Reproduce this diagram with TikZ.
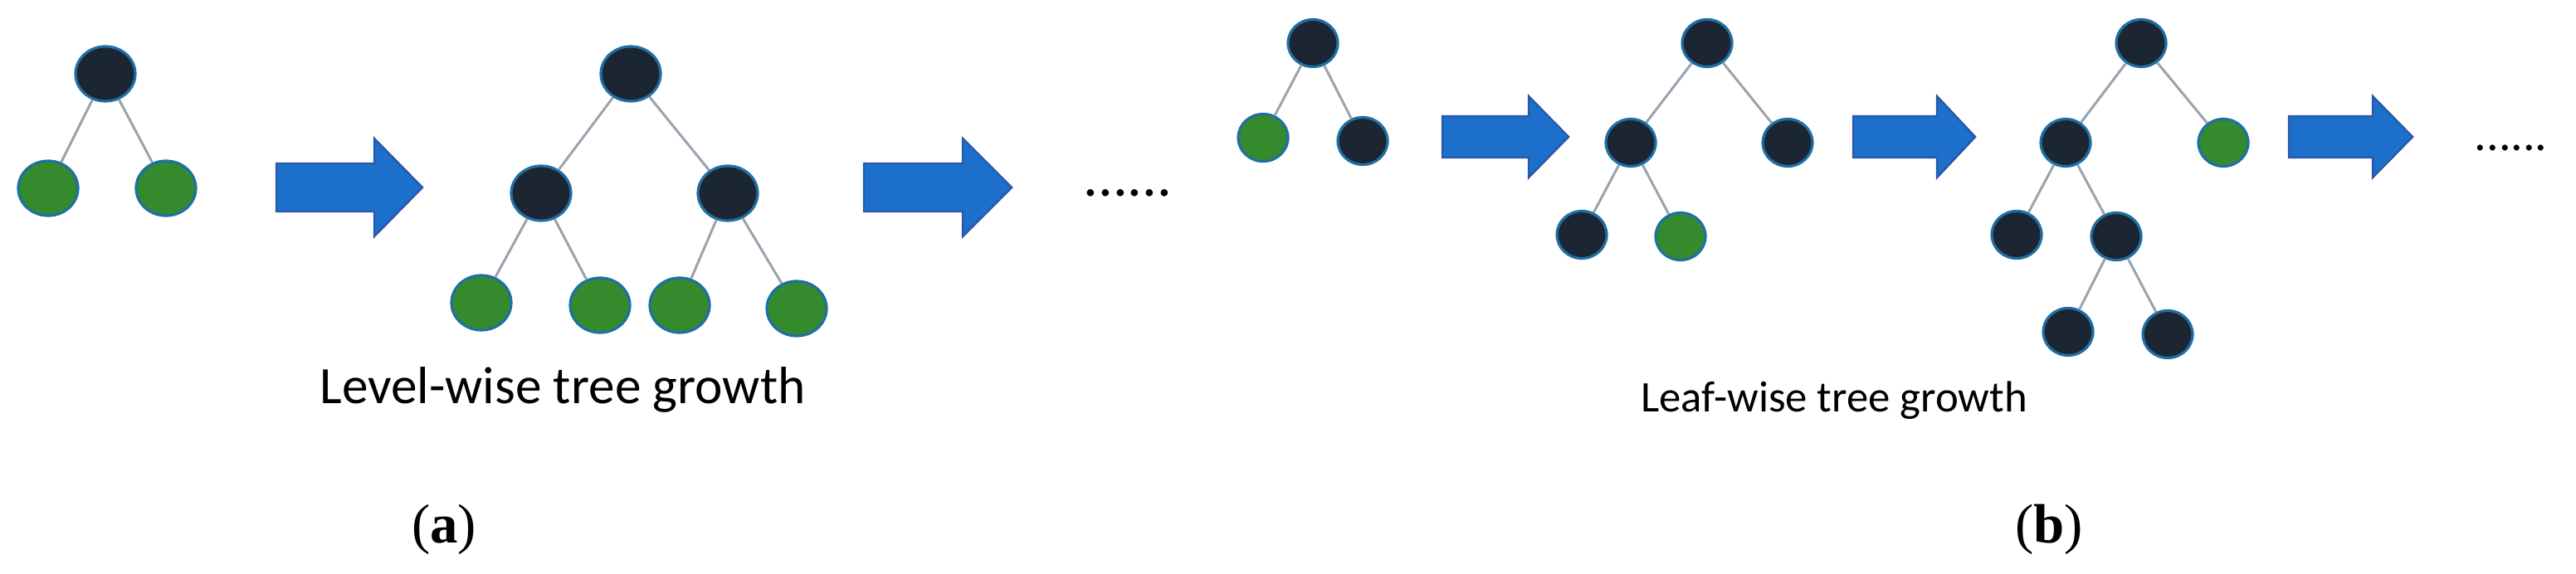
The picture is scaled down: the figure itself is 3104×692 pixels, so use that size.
\documentclass[tikz,border=0pt]{standalone}
\usepackage{fontspec}
\setmainfont{Carlito}
\newfontfamily\serifcap{Liberation Serif}
\usetikzlibrary{shapes.geometric}
\definecolor{darknode}{HTML}{1B2632}
\definecolor{greennode}{HTML}{348A2C}
\definecolor{nodeline}{HTML}{1F6FA5}
\definecolor{edgegray}{HTML}{9AA3AE}
\definecolor{arrowfill}{HTML}{1C70CC}
\definecolor{arrowline}{HTML}{2A58A8}
\tikzset{
  bignode/.style={ellipse,minimum width=0.72cm,minimum height=0.66cm,inner sep=0pt,draw=nodeline,line width=0.9pt},
  smallnode/.style={ellipse,minimum width=0.6cm,minimum height=0.57cm,inner sep=0pt,draw=nodeline,line width=0.9pt},
  dk/.style={fill=darknode},
  gr/.style={fill=greennode},
  edge/.style={draw=edgegray,line width=0.85pt},
  blockarrow/.style={fill=arrowfill,draw=arrowline,line width=0.7pt,line join=miter},
}
\newcommand{\blockarr}[6]{% x0 x1 xh yc shafthalf headhalf
  \path[blockarrow] (#1,#4-#5) -- (#3,#4-#5) -- (#3,#4-#6) -- (#2,#4) -- (#3,#4+#6) -- (#3,#4+#5) -- (#1,#4+#5) -- cycle;}
\begin{document}
\begin{tikzpicture}[x=0.01cm,y=-0.01cm]
\useasboundingbox (0,0) rectangle (3104,692);
% ---- (a) tree 1
\node[bignode,dk] (a1r) at (127,89) {};
\node[bignode,gr] (a1l) at (58,227) {};
\node[bignode,gr] (a1q) at (200,227) {};
\draw[edge] (a1r) -- (a1l); \draw[edge] (a1r) -- (a1q);
\blockarr{333}{509}{451}{226}{29}{59}
% ---- (a) tree 2
\node[bignode,dk] (a2r) at (760,89) {};
\node[bignode,dk] (a2l) at (652,233) {};
\node[bignode,dk] (a2q) at (877,233) {};
\node[bignode,gr] (a2ll) at (580,365) {};
\node[bignode,gr] (a2lr) at (723,368) {};
\node[bignode,gr] (a2rl) at (819,368) {};
\node[bignode,gr] (a2rr) at (960,372) {};
\draw[edge] (a2r) -- (a2l); \draw[edge] (a2r) -- (a2q);
\draw[edge] (a2l) -- (a2ll); \draw[edge] (a2l) -- (a2lr);
\draw[edge] (a2q) -- (a2rl); \draw[edge] (a2q) -- (a2rr);
\blockarr{1041}{1219}{1160}{226}{29}{59}
\node[font=\fontsize{20pt}{24pt}\selectfont,anchor=base west,inner sep=0pt] (adots) at (1305,237) {......};
\node[font=\fontsize{18pt}{22pt}\selectfont,anchor=base,inner sep=0pt] (alab) at (678,487) {Level-wise tree growth};
\node[font=\serifcap\fontsize{19pt}{23pt}\selectfont,anchor=base,inner sep=0pt] (acap) at (535,655) {(\textbf{a})};
% ---- (b) tree 1
\node[smallnode,dk] (b1r) at (1582,52) {};
\node[smallnode,gr] (b1l) at (1522,166) {};
\node[smallnode,dk] (b1q) at (1642,170) {};
\draw[edge] (b1r) -- (b1l); \draw[edge] (b1r) -- (b1q);
\blockarr{1738}{1890}{1842}{165}{25}{49}
% ---- (b) tree 2
\node[smallnode,dk] (b2r) at (2057,52) {};
\node[smallnode,dk] (b2l) at (1965,172) {};
\node[smallnode,dk] (b2q) at (2154,172) {};
\node[smallnode,dk] (b2ll) at (1906,283) {};
\node[smallnode,gr] (b2lr) at (2025,285) {};
\draw[edge] (b2r) -- (b2l); \draw[edge] (b2r) -- (b2q);
\draw[edge] (b2l) -- (b2ll); \draw[edge] (b2l) -- (b2lr);
\blockarr{2233}{2380}{2334}{165}{25}{49}
% ---- (b) tree 3
\node[smallnode,dk] (b3r) at (2580,52) {};
\node[smallnode,dk] (b3l) at (2489,172) {};
\node[smallnode,gr] (b3q) at (2679,172) {};
\node[smallnode,dk] (b3ll) at (2430,283) {};
\node[smallnode,dk] (b3lr) at (2550,285) {};
\node[smallnode,dk] (b3lrl) at (2492,400) {};
\node[smallnode,dk] (b3lrr) at (2612,403) {};
\draw[edge] (b3r) -- (b3l); \draw[edge] (b3r) -- (b3q);
\draw[edge] (b3l) -- (b3ll); \draw[edge] (b3l) -- (b3lr);
\draw[edge] (b3lr) -- (b3lrl); \draw[edge] (b3lr) -- (b3lrr);
\blockarr{2758}{2907}{2859}{165}{25}{49}
\node[font=\fontsize{16.5pt}{20pt}\selectfont,anchor=base west,inner sep=0pt] (bdots) at (2981,182) {......};
\node[font=\fontsize{15pt}{18pt}\selectfont,anchor=base,inner sep=0pt] (blab) at (2210,497) {Leaf-wise tree growth};
\node[font=\serifcap\fontsize{19pt}{23pt}\selectfont,anchor=base,inner sep=0pt] (bcap) at (2469,655) {(\textbf{b})};
\end{tikzpicture}
\end{document}
